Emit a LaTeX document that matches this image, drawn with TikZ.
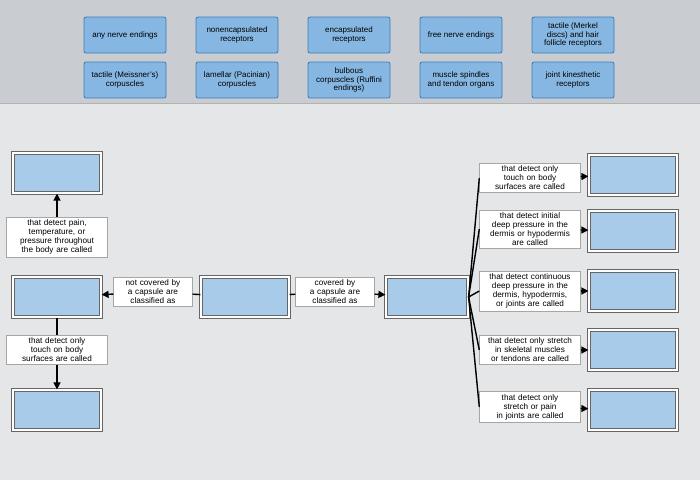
\documentclass[tikz,border=0pt]{standalone}
\usepackage{fontspec}
\setmainfont{Liberation Sans}
\usetikzlibrary{arrows.meta,positioning}
\definecolor{tileblue}{HTML}{86B7E3}
\definecolor{tileedge}{HTML}{3C79B8}
\definecolor{slotblue}{HTML}{A9CBEA}
\definecolor{panelgray}{HTML}{C9CDD2}
\definecolor{pagegray}{HTML}{E4E6E8}
\tikzset{
	tile/.style={draw=tileedge, fill=tileblue, rounded corners=2pt, line width=0.8pt,
		minimum width=82pt, minimum height=36pt, align=center, font=\fontsize{8}{8.5}\selectfont, inner sep=1pt},
	slot/.style={draw=gray!80!black, fill=slotblue, line width=1.2pt, double=white, double distance=1.4pt,
		minimum width=88pt, minimum height=40pt},
	label/.style={draw=gray!70, fill=white, align=center, font=\fontsize{8.2}{9}\selectfont,
		text width=96pt, inner sep=2.5pt},
	link/.style={line width=1.4pt, -{Triangle[length=7pt,width=7pt]}},
	plain/.style={line width=1.4pt},
}
\begin{document}
\begin{tikzpicture}[x=1pt,y=-1pt]
\useasboundingbox (0,0) rectangle (700,480);
\fill[pagegray] (0,0) rectangle (700,480);
\fill[panelgray] (0,0) rectangle (700,103);
\draw[gray!60] (0,103) -- (700,103);
% answer tiles
\node[tile] (t1) at (125,35) {any nerve endings};
\node[tile] (t2) at (237,35) {nonencapsulated\\receptors};
\node[tile] (t3) at (349,35) {encapsulated\\receptors};
\node[tile] (t4) at (461,35) {free nerve endings};
\node[tile] (t5) at (573,35) {tactile (Merkel\\discs) and hair\\follicle receptors};
\node[tile] (t6) at (125,80) {tactile (Meissner's)\\corpuscles};
\node[tile] (t7) at (237,80) {lamellar (Pacinian)\\corpuscles};
\node[tile] (t8) at (349,80) {bulbous\\corpuscles (Ruffini\\endings)};
\node[tile] (t9) at (461,80) {muscle spindles\\and tendon organs};
\node[tile] (t10) at (573,80) {joint kinesthetic\\receptors};
% left column
\node[slot] (s1) at (57,173) {};
\node[label] (pain) at (57,237) {that detect pain,\\temperature, or\\pressure throughout\\the body are called};
\node[slot] (s2) at (57,297) {};
\node[label] (touchl) at (57,350) {that detect only\\touch on body\\surfaces are called};
\node[slot] (s3) at (57,410) {};
\draw[link] (pain) -- (s1);
\draw[plain] (s2) -- (touchl);
\draw[link] (touchl) -- (s3);
% middle row
\node[label, text width=74pt] (notcov) at (153,292) {not covered by\\a capsule are\\classified as};
\node[slot] (s4) at (245,297) {};
\node[label, text width=74pt] (cov) at (335,292) {covered by\\a capsule are\\classified as};
\node[slot, minimum width=82pt] (s5) at (427,297) {};
\draw[plain] (s4) -- (notcov);
\draw[link] (notcov) -- (s2);
\draw[plain] (s4) -- (cov);
\draw[link] (cov) -- (s5);
% right fan
\coordinate (fan) at (s5.east);
\node[label] (r1) at (530,178) {that detect only\\touch on body\\surfaces are called};
\node[label] (r2) at (530,229) {that detect initial\\deep pressure in the\\dermis or hypodermis\\are called};
\node[label] (r3) at (530,291) {that detect continuous\\deep pressure in the\\dermis, hypodermis,\\or joints are called};
\node[label] (r4) at (530,350) {that detect only stretch\\in skeletal muscles\\or tendons are called};
\node[label] (r5) at (530,407) {that detect only\\stretch or pain\\in joints are called};
\foreach \i/\y in {1/175,2/231,3/291,4/350,5/410}{
	\node[slot] (o\i) at (633,\y) {};
	\draw[plain] (fan) -- (r\i.west);
	\draw[link] (r\i) -- (o\i);
}
\end{tikzpicture}
\end{document}
